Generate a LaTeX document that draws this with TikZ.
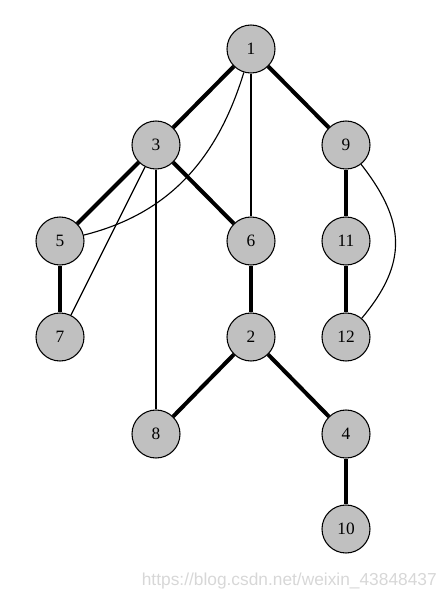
\documentclass[tikz,border=0pt]{standalone}
\usepackage{fontspec}
\setmainfont{Liberation Serif}
\newfontfamily\wmfont{Liberation Sans}
\definecolor{nodegray}{RGB}{192,192,192}
\definecolor{wmgray}{RGB}{215,215,215}
\begin{document}
\begin{tikzpicture}[x=0.75pt,y=-0.75pt,
  vtx/.style={circle,draw=black,line width=0.8pt,fill=nodegray,minimum size=36pt,inner sep=0pt,font=\fontsize{13}{15}\selectfont},
  tree/.style={line width=3pt},
  extra/.style={line width=0.85pt}]
\useasboundingbox (0,0) rectangle (444,598);
\node[vtx] (n1) at (251,49) {1};
\node[vtx] (n3) at (156,145) {3};
\node[vtx] (n9) at (346,145) {9};
\node[vtx] (n5) at (60,241) {5};
\node[vtx] (n6) at (251,241) {6};
\node[vtx] (n11) at (346,241) {11};
\node[vtx] (n7) at (60,337) {7};
\node[vtx] (n2) at (251,337) {2};
\node[vtx] (n12) at (346,337) {12};
\node[vtx] (n8) at (156,434) {8};
\node[vtx] (n4) at (346,434) {4};
\node[vtx] (n10) at (346,529) {10};
\draw[tree] (n1) -- (n3);
\draw[tree] (n1) -- (n9);
\draw[tree] (n3) -- (n5);
\draw[tree] (n3) -- (n6);
\draw[tree] (n5) -- (n7);
\draw[tree] (n6) -- (n2);
\draw[tree] (n9) -- (n11);
\draw[tree] (n11) -- (n12);
\draw[tree] (n2) -- (n8);
\draw[tree] (n2) -- (n4);
\draw[tree] (n4) -- (n10);
\draw[extra] (n1) -- (n6);
\draw[extra] (n3) -- (n7);
\draw[extra] (n3) -- (n8);
\draw[extra] (n1) to[out=-107,in=14] (n5);
\draw[extra] (n9) to[out=-52,in=50,looseness=1.2] (n12);
\node[font=\wmfont\fontsize{13}{15}\selectfont,text=wmgray,anchor=base east,inner sep=0pt] (wm) at (437,585) {https://blog.csdn.net/weixin\_43848437};
\end{tikzpicture}
\end{document}
